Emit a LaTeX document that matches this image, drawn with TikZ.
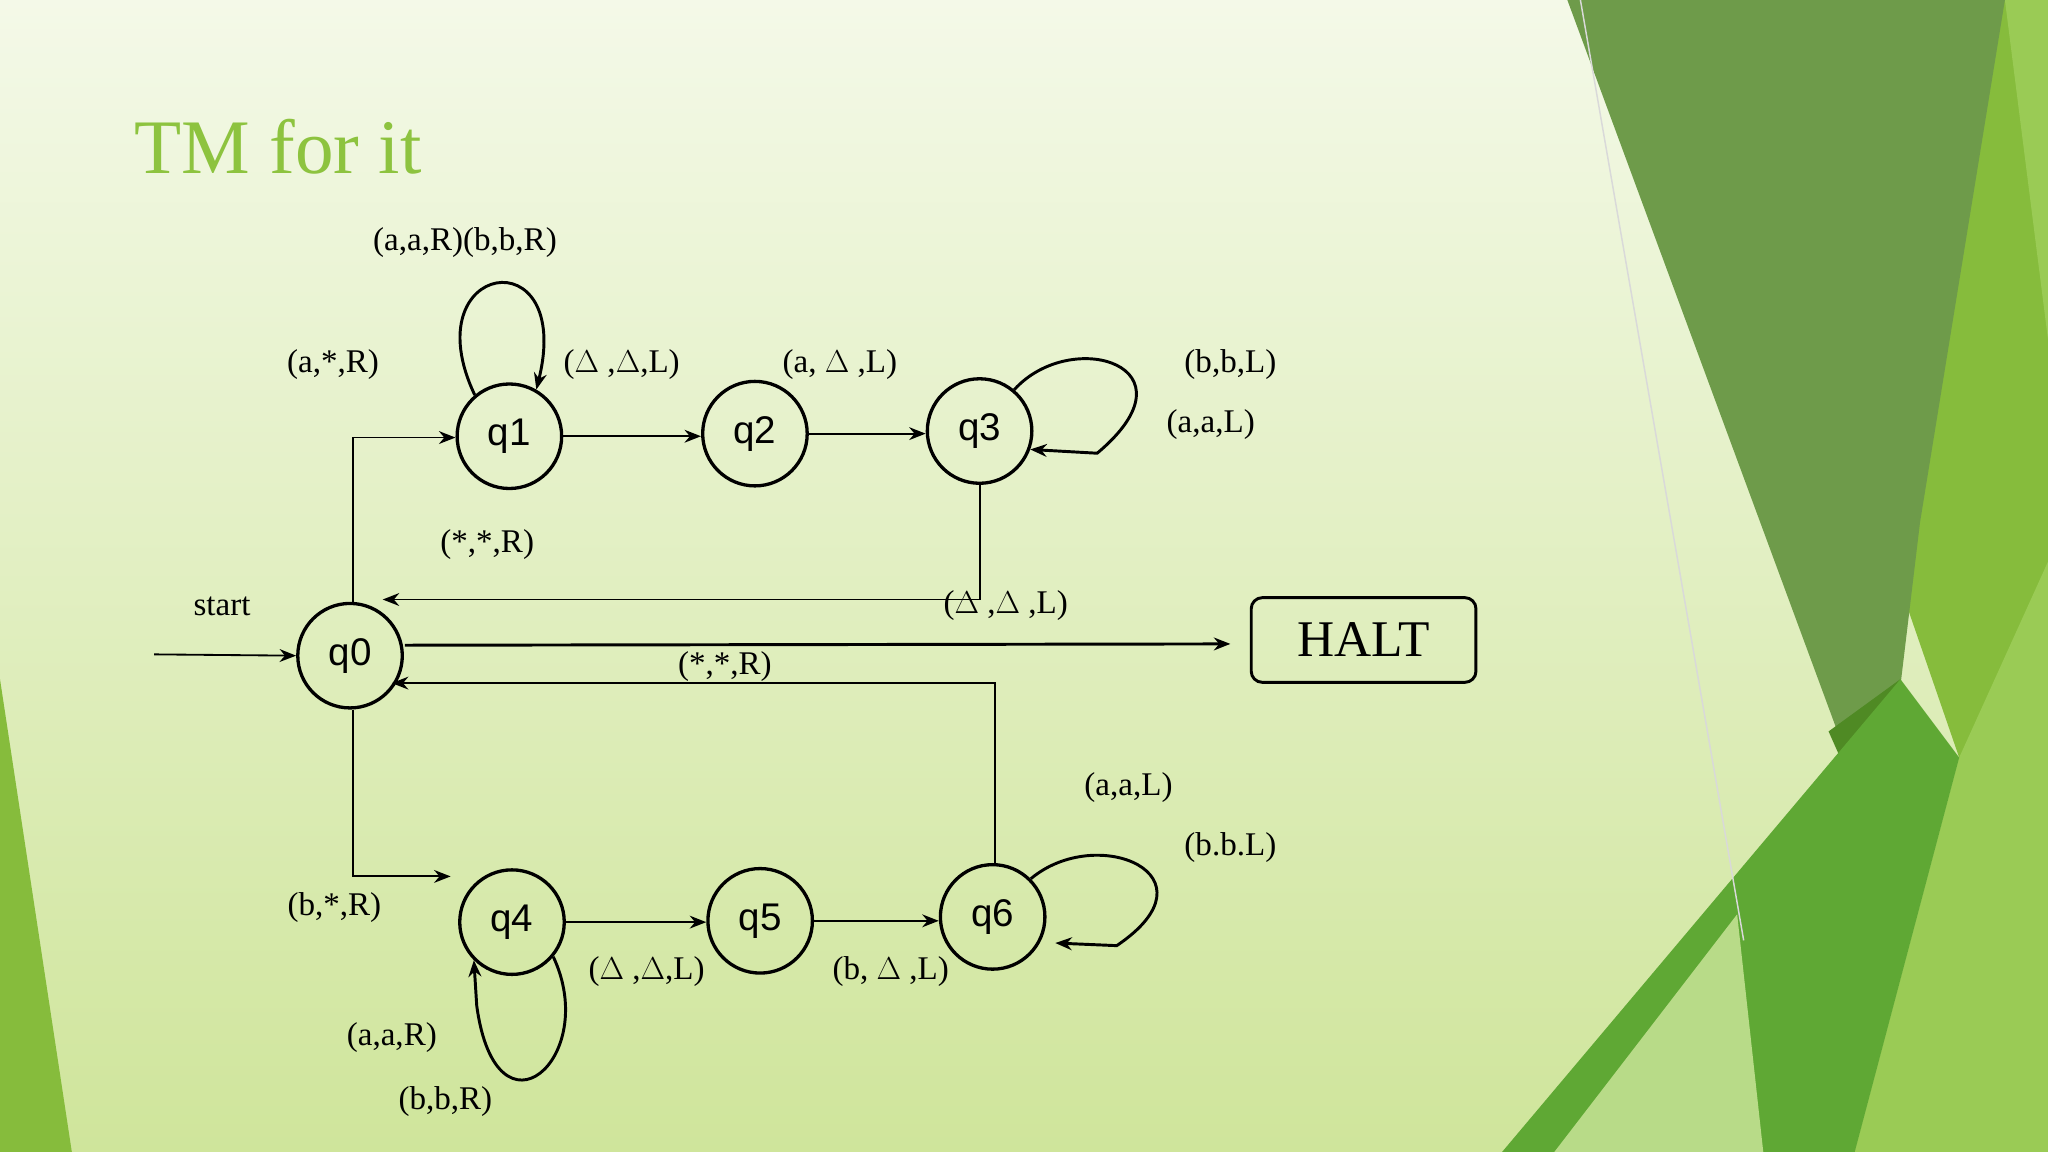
\documentclass[tikz,border=0pt]{standalone}
\usepackage{fontspec}
\setmainfont{Liberation Serif}
\newfontfamily\qfont{Liberation Sans}
\usetikzlibrary{arrows.meta}
\definecolor{bgtop}{HTML}{F4F9E8}
\definecolor{bgbot}{HTML}{CFE59B}
\definecolor{gA}{HTML}{86BC3C}
\definecolor{gB}{HTML}{6E9B4A}
\definecolor{gC}{HTML}{5FA834}
\definecolor{gD}{HTML}{9ACB55}
\definecolor{gE}{HTML}{4F8A24}
\definecolor{titlec}{HTML}{8DC33F}
\tikzset{
 st/.style={circle,draw,line width=1.8pt,minimum size=2cm,inner sep=0pt,font=\qfont\fontsize{21}{24}\selectfont},
 lb/.style={font=\fontsize{18}{20}\selectfont,inner sep=1pt},
 ed/.style={line width=1pt,-{Stealth[length=9pt,width=7pt]}},
 lp/.style={line width=1.6pt,-{Stealth[length=9pt,width=7pt]}}
}
\begin{document}
\begin{tikzpicture}[x=0.025cm,y=-0.025cm]
\useasboundingbox (0,0) rectangle (1568,882);
\shade[top color=bgtop,bottom color=bgbot] (0,0) rectangle (1568,882);
% right decoration
\fill[gA] (1300,0) -- (1568,0) -- (1568,882) -- (1420,882) -- (1500,580) -- cycle;
\fill[gD] (1535,0) -- (1568,0) -- (1568,260) -- cycle;
\fill[gB] (1200,0) -- (1535,0) -- (1470,400) -- (1440,650) -- cycle;
\fill[gE] (1400,560) -- (1455,520) -- (1440,650) -- cycle;
\fill[gD] (1568,430) -- (1568,882) -- (1420,882) -- (1500,580) -- cycle;
\fill[gC] (1150,882) -- (1455,520) -- (1500,580) -- (1420,882) -- cycle;
\fill[gD!70!white] (1190,882) -- (1330,700) -- (1350,882) -- cycle;
\draw[white!70!gray,line width=0.8pt] (1210,0) -- (1335,720);
\fill[gA] (0,520) -- (55,882) -- (0,882) -- cycle;
% title
\node[anchor=west,text=titlec,font=\fontsize{42}{46}\selectfont] (title) at (98,112) {TM for it};
% states
\node[st] (q0) at (268,502) {q0};
\node[st] (q1) at (390,334) {q1};
\node[st] (q2) at (578,332) {q2};
\node[st] (q3) at (750,330) {q3};
\node[st] (q4) at (392,706) {q4};
\node[st] (q5) at (582,705) {q5};
\node[st] (q6) at (760,702) {q6};
\node[draw,rounded corners=6pt,line width=1.6pt,minimum width=4.3cm,minimum height=1.62cm,font=\fontsize{28}{30}\selectfont] (halt) at (1044,490) {HALT};
\coordinate (s) at (118,501);
\coordinate (c1) at (270,335);
\coordinate (c4) at (270,671);
\coordinate (e4) at (345,671);
\coordinate (c3) at (750,459);
\coordinate (e3) at (293,459);
\coordinate (c6) at (762,523);
\coordinate (e6) at (300,523);
\coordinate (h0) at (310,494);
\coordinate (h1) at (942,493);
% edges
\draw[ed] (s) -- (q0.west);
\draw[ed] (c1|-q0.north) -- (c1) -- (q1.west|-c1);
\draw[ed] (c4|-q0.south) -- (c4) -- (e4);
\draw[ed] (q1.east) -- (q2.west|-q1.east);
\draw[ed] (q2.east) -- (q3.west|-q2.east);
\draw[ed] (q3.south) -- (c3) -- (e3);
\draw[ed,line width=1.6pt] (h0) -- (h1);
\draw[ed] (c6|-q6.north) -- (c6) -- (e6);
\draw[ed] (q4.east) -- (q5.west|-q4.east);
\draw[ed] (q5.east) -- (q6.west|-q5.east);
% loops
\draw[lp] (q1.130) .. controls (315,200) and (440,180) .. (q1.60);
\draw[lp] (q3.50) .. controls (820,250) and (920,280) .. (840,347) -- (q3.-20);
\draw[lp] (q6.45) .. controls (840,630) and (935,670) .. (855,724) -- (808,722);
\draw[lp] (q4.-40) .. controls (460,810) and (380,880) .. (365,770) -- (q4.-135);
% labels
\node[lb] (l1) at (356,186) {(a,a,R)(b,b,R)};
\node[lb] (l2) at (255,279) {(a,*,R)};
\node[lb] (l3) at (476,279) {(\(\Delta\) ,\(\Delta\),L)};
\node[lb] (l4) at (643,279) {(a, \(\Delta\) ,L)};
\node[lb] (l5) at (942,279) {(b,b,L)};
\node[lb] (l6) at (927,325) {(a,a,L)};
\node[lb] (l7) at (373,417) {(*,*,R)};
\node[lb] (l8) at (770,464) {(\(\Delta\) ,\(\Delta\) ,L)};
\node[lb] (l9) at (170,464) {start};
\node[lb] (l10) at (555,510) {(*,*,R)};
\node[lb] (l11) at (864,603) {(a,a,L)};
\node[lb] (l12) at (942,649) {(b.b.L)};
\node[lb] (l13) at (256,695) {(b,*,R)};
\node[lb] (l14) at (495,744) {(\(\Delta\) ,\(\Delta\),L)};
\node[lb] (l15) at (682,744) {(b, \(\Delta\) ,L)};
\node[lb] (l16) at (300,794) {(a,a,R)};
\node[lb] (l17) at (341,843) {(b,b,R)};
\end{tikzpicture}
\end{document}
